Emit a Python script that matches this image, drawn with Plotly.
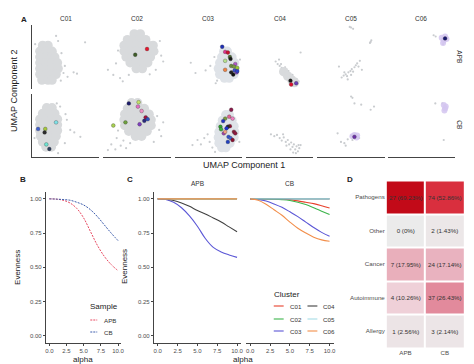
import plotly.graph_objects as go

W, H = 474, 364
def fx(p): return p / W
def fy(p): return 1 - p / H

FONT = "Liberation Sans, Arial, sans-serif"

# ---------------- Panel A data (UMAP coordinates, shared scale 0..10) ----------------
clusters = ["C01", "C02", "C03", "C04", "C05", "C06"]
samples = ["APB", "CB"]

core_C01_APB = [(1.6,6.8),(2.4,6.8),(1.2,5.9),(2.1,5.9),(3.0,5.9),(1.2,5.0),(2.1,5.0),(3.0,5.0),(3.4,5.0),
                (1.2,4.1),(2.1,4.1),(3.0,4.1),(3.8,4.1),(1.2,3.2),(2.1,3.2),(3.0,3.2),(3.9,3.2),
                (1.2,2.3),(2.1,2.3),(3.0,2.3),(3.6,2.3),(1.5,1.4),(2.4,1.4),(3.0,1.4)]
sparse_C01_APB = [(3.6,8.3),(7.9,7.3),(6.2,2.6),(6.7,2.4),(4.7,2.5),(4.3,1.3),(4.9,3.6),(3.9,7.5),(0.5,7.0),(4.4,5.6),(5.3,1.9)]
clones_C01_APB = []
clone_colors_C01_APB = []

core_C01_CB = [(2.2,7.8),(3.0,7.8),(1.6,6.9),(2.5,6.9),(3.4,6.9),(1.2,6.0),(2.1,6.0),(3.0,6.0),(3.8,6.0),
               (1.2,5.1),(2.1,5.1),(3.0,5.1),(3.8,5.1),(1.2,4.2),(2.1,4.2),(3.0,4.2),(3.8,4.2),
               (1.3,3.3),(2.2,3.3),(3.1,3.3),(3.6,3.3),(1.6,2.4),(2.5,2.4),(3.3,2.4),(2.1,1.6),(2.9,1.6)]
sparse_C01_CB = [(5.7,4.3),(7.2,3.2),(3.7,8.5),(4.2,8.0),(5.2,5.9),(4.9,2.2),(6.3,3.9),(0.4,3.0),(3.9,0.6),(5.0,6.8)]
clones_C01_CB = [(0.93,4.45),(2.0,4.45),(1.9,3.9),(3.6,5.5),(2.15,2.0),(2.6,1.27)]
clone_colors_C01_CB = ["#3f5fcf","#a6c83c","#2b2b2b","#7fe0e6","#6fe3d2","#2f3e5c"]

core_C02_APB = [(4.6,8.6),(5.5,8.6),(3.6,7.7),(4.5,7.7),(5.4,7.7),(6.3,7.7),
                (3.1,6.8),(4.0,6.8),(4.9,6.8),(5.8,6.8),(6.7,6.8),(7.4,6.8),
                (3.1,5.9),(4.0,5.9),(4.9,5.9),(5.8,5.9),(6.7,5.9),(7.5,5.9),
                (3.4,5.0),(4.3,5.0),(5.2,5.0),(6.1,5.0),(7.0,5.0),(4.0,4.1),(4.9,4.1),(5.8,4.1),(6.6,4.1),(4.9,3.2),(5.8,3.2)]
sparse_C02_APB = [(0.7,3.0),(2.5,1.7),(1.5,2.2),(2.9,1.2),(8.6,5.2),(8.4,7.5),(2.2,6.0),(7.8,3.0),(3.8,2.2),(6.9,2.3),(8.9,4.3),(1.9,4.0)]
clones_C02_APB = [(6.5,6.25),(4.75,5.35)]
clone_colors_C02_APB = ["#e8132b","#3f5d28"]

core_C02_CB = [(4.2,8.6),(5.1,8.6),(3.6,7.7),(4.5,7.7),(5.4,7.7),(6.1,7.7),
               (3.2,6.8),(4.1,6.8),(5.0,6.8),(5.9,6.8),(6.8,6.8),
               (3.1,5.9),(4.0,5.9),(4.9,5.9),(5.8,5.9),(6.7,5.9),(7.1,5.9),
               (3.2,5.0),(4.1,5.0),(5.0,5.0),(5.9,5.0),(6.8,5.0),(7.1,5.0),
               (3.8,4.1),(4.7,4.1),(5.6,4.1),(6.5,4.1),(4.8,3.3),(5.7,3.3)]
sparse_C02_CB = [(0.7,1.1),(8.3,4.3),(1.2,2.0),(2.0,3.0),(2.6,1.8),(3.0,2.6),(1.8,1.2),(8.0,6.5),(8.6,3.3),(7.5,2.4),(3.4,1.4),(2.2,4.2),(4.0,2.2),(8.9,5.5)]
clones_C02_CB = [(3.8,8.5),(5.25,8.7),(5.15,8.0),(5.7,7.3),(6.3,6.3),(6.6,6.0),(6.1,5.75),(5.4,5.2),(3.3,5.5),(1.5,5.0)]
clone_colors_C02_CB = ["#1c1c6b","#c3e26a","#e46fc0","#f08fc4","#a3103f","#3050c0","#29297f","#8040c0","#6ea13f","#a8d050"]

core_C03_APB = [(7.3,5.9),(7.8,5.9),(7.0,5.0),(7.8,5.0),(8.5,5.0),(6.7,4.1),(7.5,4.1),(8.3,4.1),(8.9,4.1),
                (6.5,3.2),(7.3,3.2),(8.1,3.2),(8.9,3.2),(6.7,2.3),(7.5,2.3),(8.3,2.3),(8.8,2.3),(7.4,1.7),(8.1,1.7)]
sparse_C03_APB = [(2.4,4.1),(3.1,2.5),(6.3,1.3),(5.3,3.6),(4.6,2.9),(9.7,4.6),(5.9,5.0),(6.1,0.9)]
clones_C03_APB = [(7.06,6.6),(7.5,5.8),(7.9,5.7),(8.2,5.0),(8.3,4.7),(7.5,4.4),(9.0,3.9),(8.4,3.6),(8.8,3.5),
                  (7.5,3.0),(9.3,3.3),(8.9,2.9),(9.2,2.6),(8.4,2.6),(8.7,2.25),(9.3,2.8)]
clone_colors_C03_APB = ["#1f2fb5","#e0338f","#c8102e","#4a6b2f","#1a1a1a","#b5e08a","#b056c8","#6d8b3c","#7a9a40",
                        "#f08040","#9acd32","#3a4fd0","#7b45c0","#222222","#111111","#2a40c8"]

core_C03_CB = [(7.6,6.7),(8.1,6.7),(7.1,5.8),(7.9,5.8),(8.5,5.8),(6.8,4.9),(7.6,4.9),(8.4,4.9),(8.8,4.9),
               (6.6,4.0),(7.4,4.0),(8.2,4.0),(8.9,4.0),(6.5,3.1),(7.3,3.1),(8.1,3.1),(8.8,3.1),
               (6.6,2.2),(7.4,2.2),(8.2,2.2),(7.0,1.5),(7.6,1.5)]
sparse_C03_CB = [(3.4,2.7),(4.4,3.0),(2.65,1.9),(5.2,2.4),(4.9,3.6),(6.0,0.8),(5.6,1.5),(9.6,2.4),(3.9,2.0)]
clones_C03_CB = [(8.4,7.5),(8.1,6.4),(8.6,6.1),(7.5,6.1),(7.2,5.7),(8.2,4.9),(7.9,4.8),(6.8,4.8),(6.9,4.4),
                 (7.7,4.55),(8.8,4.0),(7.3,3.75),(9.0,3.75),(8.0,3.2),(8.3,3.0),(8.6,2.7),(7.9,2.4),(7.5,4.0)]
clone_colors_C03_CB = ["#8b1a4a","#e06090","#f080c0","#7a9a40","#2030c0","#901030","#2a2a2a","#30a030","#40b040",
                       "#2030d0","#8b1a3a","#a040b0","#901a40","#3050d0","#4060d0","#8b1030","#2040c0","#f0a080"]

core_C04_APB = [(5.6,2.7),(6.2,2.0),(6.8,1.4),(7.2,1.0)]
sparse_C04_APB = [(4.4,4.3),(4.7,3.9),(5.0,3.6),(5.2,3.9),(5.3,3.3),(5.8,3.4),(5.9,2.7),(6.1,2.4),(6.3,2.8),(6.4,2.1),
                  (6.6,1.8),(6.9,2.2),(7.0,1.5),(7.5,1.6),(7.6,0.9),(6.2,1.5),(5.5,2.5),(8.1,5.7),(4.9,4.6),(7.8,1.2)]
clones_C04_APB = [(6.6,1.3),(6.7,0.7),(7.45,0.9)]
clone_colors_C04_APB = ["#1a1a1a","#e0102f","#6a3fb8"]

core_C04_CB = []
sparse_C04_CB = [(3.7,3.6),(4.2,3.3),(4.6,3.5),(5.0,3.0),(5.3,2.6),(5.6,3.1),(5.9,2.4),(6.2,2.7),(6.4,2.0),(6.7,2.3),
                 (6.9,1.6),(7.1,2.0),(7.3,1.2),(7.5,1.7),(7.7,0.9),(7.9,1.4),(8.1,1.9),(6.0,1.8),(7.0,0.7),(5.5,3.6),
                 (7.4,0.6),(7.8,1.9),(6.6,1.2)]
clones_C04_CB = []
clone_colors_C04_CB = []

core_C05_APB = []
sparse_C05_APB = [(5.0,9.6),(5.3,9.4),(4.8,9.7),(7.9,7.35),(8.0,7.6),(7.8,7.2),(3.6,1.8),(3.9,2.1),(4.2,2.3),(4.4,2.0),
                  (4.6,2.6),(4.9,2.8),(5.1,3.1),(5.3,2.7),(5.5,3.4),(5.7,3.7),(5.9,4.0),(6.1,3.5),(6.3,4.4),(4.0,2.6),
                  (5.0,2.2),(3.2,3.5),(6.6,3.0),(4.5,1.5)]
clones_C05_APB = []
clone_colors_C05_APB = []

core_C05_CB = []
sparse_C05_CB = [(5.0,9.6),(5.2,9.4),(5.5,8.5),(6.5,8.3),(8.4,8.0),(7.9,7.5),(3.0,3.75),(4.0,2.2),(6.2,3.0),
                 (5.0,3.4),(5.8,3.3),(4.5,2.8),(4.2,1.8),(5.2,2.7),(3.5,2.4)]
haze_C05_CB = [(5.2,3.3),(5.8,3.1),(5.5,3.5),(5.9,3.4)]
clones_C05_CB = [(5.5,3.2)]
clone_colors_C05_CB = ["#6b2fa8"]

sparse_C06_APB = [(6.8,8.4),(7.1,8.2),(8.2,7.0),(8.4,7.3)]
haze_C06_APB = [(8.0,8.0),(8.3,7.6),(8.7,7.8),(8.5,8.2),(8.2,7.2)]
clones_C06_APB = [(8.5,7.9)]
clone_colors_C06_APB = ["#1a1a70"]

sparse_C06_CB = [(7.05,8.5),(8.3,2.7),(8.1,8.5)]
haze_C06_CB = [(8.5,7.7),(8.3,8.25),(8.6,8.0),(8.4,7.4)]
clones_C06_CB = []
clone_colors_C06_CB = []

# ---------------- Panel B / C data ----------------
alpha = [0, 1, 2, 3, 4, 5, 6, 7, 8, 9, 10]
even_B_APB = [1.00, 0.998, 0.99, 0.97, 0.93, 0.86, 0.76, 0.66, 0.58, 0.52, 0.475]
even_B_CB  = [1.00, 0.998, 0.995, 0.99, 0.975, 0.955, 0.92, 0.87, 0.81, 0.75, 0.695]

cluster_colors = ["#e8412c", "#3cb44b", "#5b57d6", "#404040", "#a6dce6", "#f28e4a"]
even_C_APB = {
    "C01": [1.0]*11,
    "C02": [1.0]*11,
    "C03": [1.0, 0.995, 0.975, 0.935, 0.875, 0.80, 0.71, 0.645, 0.612, 0.59, 0.572],
    "C04": [1.0, 0.997, 0.988, 0.97, 0.945, 0.915, 0.89, 0.86, 0.83, 0.795, 0.76],
    "C05": [1.0]*11,
    "C06": [1.0]*11,
}
even_C_CB = {
    "C01": [1.0, 1.0, 1.0, 0.999, 0.997, 0.993, 0.985, 0.975, 0.965, 0.95, 0.933],
    "C02": [1.0, 1.0, 0.999, 0.997, 0.994, 0.988, 0.975, 0.958, 0.935, 0.91, 0.885],
    "C03": [1.0, 0.996, 0.984, 0.963, 0.938, 0.905, 0.87, 0.83, 0.79, 0.755, 0.727],
    "C04": [1.0]*11,
    "C05": [1.0]*11,
    "C06": [1.0, 0.99, 0.96, 0.92, 0.88, 0.83, 0.785, 0.75, 0.72, 0.70, 0.69],
}

# ---------------- Panel D data ----------------
categories = ["Allergy", "Autoimmune", "Cancer", "Other", "Pathogens"]
counts_APB = [1, 4, 7, 0, 27]
counts_CB = [3, 37, 24, 2, 74]
pct_APB = [2.56, 10.26, 17.95, 0, 69.23]
pct_CB = [2.14, 26.43, 17.14, 1.43, 52.86]

# ---------------- Build figure ----------------
fig = go.Figure()
layout = {}

col_left = [23, 95, 167, 239, 311, 382]
col_w = 68
row_top = [17, 86]
row_bot = [81, 149]
axis_line = "#444444"

def unzip(pts):
    return [p[0] for p in pts], [p[1] for p in pts]

g = globals()
n = 0
for r, s in enumerate(samples):
    for c, cl in enumerate(clusters):
        n += 1
        xa = "x" if n == 1 else f"x{n}"
        ya = "y" if n == 1 else f"y{n}"
        layout[f"xaxis{'' if n == 1 else n}"] = dict(
            domain=[fx(col_left[c]), fx(col_left[c] + col_w)], range=[0, 10],
            showgrid=False, zeroline=False, showticklabels=False, ticks="",
            showline=(r == 1), linecolor=axis_line, linewidth=1, anchor=ya, fixedrange=True)
        layout[f"yaxis{'' if n == 1 else n}"] = dict(
            domain=[fy(row_bot[r]), fy(row_top[r])], range=[0, 10],
            showgrid=False, zeroline=False, showticklabels=False, ticks="",
            showline=(c == 0), linecolor=axis_line, linewidth=1, anchor=xa, fixedrange=True)
        key = f"{cl}_{s}"
        sp = g.get("sparse_" + key, [])
        if sp:
            x, y = unzip(sp)
            fig.add_trace(go.Scatter(x=x, y=y, xaxis=xa, yaxis=ya, mode="markers",
                                     marker=dict(size=2.2, color="#c9cccf"), showlegend=False, hoverinfo="skip"))
        co = g.get("core_" + key, [])
        if co:
            x, y = unzip(co)
            fig.add_trace(go.Scatter(x=x, y=y, xaxis=xa, yaxis=ya, mode="markers",
                                     marker=dict(size=9.5, color="#d8dadc" if cl != "C03" else "#dfe3e8"),
                                     showlegend=False, hoverinfo="skip"))
        hz = g.get("haze_" + key, [])
        if hz:
            x, y = unzip(hz)
            fig.add_trace(go.Scatter(x=x, y=y, xaxis=xa, yaxis=ya, mode="markers",
                                     marker=dict(size=6, color="#d4c6f0", opacity=0.85),
                                     showlegend=False, hoverinfo="skip"))
        cp = g.get("clones_" + key, [])
        if cp:
            x, y = unzip(cp)
            fig.add_trace(go.Scatter(x=x, y=y, xaxis=xa, yaxis=ya, mode="markers",
                                     marker=dict(size=3.8, color=g["clone_colors_" + key],
                                                 line=dict(width=0.3, color="#333333")),
                                     showlegend=False, hoverinfo="skip"))

tickfont = dict(size=6, color="#4d4d4d", family=FONT)
ev_top, ev_bot = 184, 334.5

# Panel B : axis 13
layout["xaxis13"] = dict(domain=[fx(37.2), fx(113.4)], range=[-0.5, 10.5], anchor="y13",
                         tickvals=[0, 2.5, 5, 7.5, 10], ticktext=["0.0", "2.5", "5.0", "7.5", "10.0"],
                         ticks="outside", ticklen=2, tickcolor=axis_line, tickfont=tickfont,
                         showline=True, linecolor=axis_line, linewidth=1, showgrid=False, zeroline=False)
layout["yaxis13"] = dict(domain=[fy(ev_bot), fy(ev_top)], range=[-0.05, 1.05], anchor="x13",
                         tickvals=[0, 0.25, 0.5, 0.75, 1.0], ticktext=["0.00", "0.25", "0.50", "0.75", "1.00"],
                         ticks="outside", ticklen=2, tickcolor=axis_line, tickfont=tickfont,
                         showline=True, linecolor=axis_line, linewidth=1, showgrid=False, zeroline=False)
B_colors = {"APB": "#e8475f", "CB": "#3b5bab"}
fig.add_trace(go.Scatter(x=alpha, y=even_B_APB, xaxis="x13", yaxis="y13", mode="lines", line_shape="spline",
                         line=dict(color=B_colors["APB"], width=1, dash="2px,1.2px"), showlegend=False))
fig.add_trace(go.Scatter(x=alpha, y=even_B_CB, xaxis="x13", yaxis="y13", mode="lines", line_shape="spline",
                         line=dict(color=B_colors["CB"], width=1, dash="2px,1.2px"), showlegend=False))

# Panel C : axes 14 (APB) and 15 (CB)
for k, (ax, left, right, s, data) in enumerate([(14, 146, 234, "APB", even_C_APB), (15, 239.3, 327.3, "CB", even_C_CB)]):
    layout[f"xaxis{ax}"] = dict(domain=[fx(left), fx(right)], range=[-0.5, 10.5], anchor=f"y{ax}",
                                tickvals=[0, 2.5, 5, 7.5, 10], ticktext=["0.0", "2.5", "5.0", "7.5", "10.0"],
                                ticks="outside", ticklen=2, tickcolor=axis_line, tickfont=tickfont,
                                showline=True, linecolor=axis_line, linewidth=1, showgrid=False, zeroline=False)
    layout[f"yaxis{ax}"] = dict(domain=[fy(ev_bot), fy(ev_top)], range=[-0.05, 1.05], anchor=f"x{ax}",
                                tickvals=[0, 0.25, 0.5, 0.75, 1.0],
                                ticktext=["0.00", "0.25", "0.50", "0.75", "1.00"],
                                ticks="outside" if k == 0 else "", ticklen=2, tickcolor=axis_line,
                                tickfont=tickfont, showticklabels=(k == 0),
                                showline=(k == 0), linecolor=axis_line, linewidth=1, showgrid=False, zeroline=False)
    for cl, col in zip(clusters, cluster_colors):
        fig.add_trace(go.Scatter(x=alpha, y=data[cl], xaxis=f"x{ax}", yaxis=f"y{ax}", mode="lines",
                                 line_shape="spline", line=dict(color=col, width=1.1), showlegend=False))

# Panel D : axis 16
text_D = [[f"{a} ({'0' if p == 0 else format(p, '.2f')}%)", f"{b} ({format(q, '.2f')}%)"]
          for a, p, b, q in zip(counts_APB, pct_APB, counts_CB, pct_CB)]
fig.add_trace(go.Heatmap(x=samples, y=categories, z=[[p, q] for p, q in zip(pct_APB, pct_CB)],
                         text=text_D, texttemplate="%{text}", textfont=dict(size=6.2, color="#333333", family=FONT),
                         colorscale=[[0, "#ebebeb"], [0.15, "#efd0d8"], [0.38, "#e28a9c"], [0.76, "#d9303f"], [1, "#c20a18"]],
                         zmin=0, zmax=69.23, showscale=False, xgap=2, ygap=2, xaxis="x16", yaxis="y16",
                         hoverinfo="skip"))
layout["xaxis16"] = dict(domain=[fx(380), fx(459.5)], anchor="y16", showline=False, showgrid=False, zeroline=False,
                         ticks="", tickfont=dict(size=6.2, color="#4d4d4d", family=FONT))
layout["yaxis16"] = dict(domain=[fy(340), fy(172.5)], anchor="x16", showline=False, showgrid=False, zeroline=False,
                         ticks="", tickfont=dict(size=6.2, color="#4d4d4d", family=FONT))

# ---------------- Annotations ----------------
ann = []
def A(text, x, y, size=6.5, color="#222222", angle=0, bold=False, xanchor="center"):
    ann.append(dict(text=f"<b>{text}</b>" if bold else text, x=fx(x), y=fy(y), xref="paper", yref="paper",
                    showarrow=False, textangle=angle, xanchor=xanchor, yanchor="middle",
                    font=dict(size=size, color=color, family=FONT)))

A("A", 15, 11, size=8, bold=True)
A("B", 14, 171, size=8, bold=True)
A("C", 122, 171, size=8, bold=True)
A("D", 344, 171, size=8, bold=True)
for c, cl in enumerate(clusters):
    A(cl, col_left[c] + col_w / 2, 10, size=6.5, color="#333333")
A("APB", 459, 49, size=6.5, color="#333333", angle=90, xanchor="right")
A("CB", 459, 117, size=6.5, color="#333333", angle=90, xanchor="right")
A("UMAP Component 2", 5, 83, size=9, color="#222222", angle=-90)
A("UMAP Component 1", 237, 157, size=9, color="#222222")
A("Evenness", 8, 259, size=8, angle=-90)
A("alpha", 75, 351, size=8)
A("Evenness", 116, 259, size=8, angle=-90)
A("alpha", 236, 351, size=8)
A("APB", 190, 175, size=6.5, color="#333333")
A("CB", 283.3, 175, size=6.5, color="#333333")

# Legend B
shapes = []
A("Sample", 80, 298, size=8, xanchor="left")
for i, s in enumerate(samples):
    yy = 312 + 12 * i
    shapes.append(dict(type="line", xref="paper", yref="paper", x0=fx(82), x1=fx(89), y0=fy(yy), y1=fy(yy),
                       line=dict(color=B_colors[s], width=1, dash="2px,1px")))
    A(s, 94, yy, size=6.2, color="#333333", xanchor="left")

# Legend C
A("Cluster", 265, 286, size=8, xanchor="left")
for i, (cl, col) in enumerate(zip(clusters, cluster_colors)):
    cx = 267 if i < 3 else 301
    yy = [298, 311, 323][i % 3]
    shapes.append(dict(type="line", xref="paper", yref="paper", x0=fx(cx), x1=fx(cx + 10), y0=fy(yy), y1=fy(yy),
                       line=dict(color=col, width=1.1)))
    A(cl, cx + 14, yy, size=6.2, color="#333333", xanchor="left")

fig.update_layout(**layout)
fig.update_layout(width=W, height=H, margin=dict(l=0, r=0, t=0, b=0), paper_bgcolor="white",
                  plot_bgcolor="white", showlegend=False, annotations=ann, shapes=shapes,
                  font=dict(family=FONT))
fig.write_html("out.html")
